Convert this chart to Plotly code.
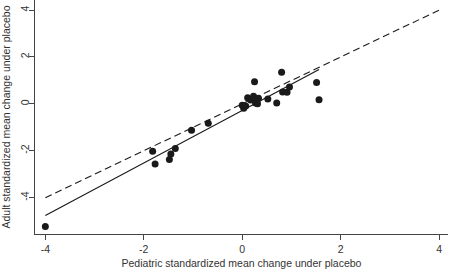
import plotly.graph_objects as go

# Pediatric (x) vs adult (y) standardized mean change under placebo
pediatric = [-4.00, -1.82, -1.77, -1.48, -1.45, -1.36, -1.03, -0.69,
             0.00, 0.03, 0.07, 0.11, 0.17, 0.23, 0.25, 0.27, 0.30, 0.33,
             0.31, 0.52, 0.70, 0.80, 0.82, 0.91, 0.96, 1.51, 1.56]
adult = [-5.23, -2.02, -2.56, -2.37, -2.14, -1.90, -1.12, -0.83,
         -0.06, -0.19, -0.09, 0.26, 0.16, 0.33, 0.94, 0.04, 0.16, 0.24,
         0.01, 0.21, 0.04, 1.35, 0.51, 0.50, 0.72, 0.91, 0.18]

# identity (dashed) line extent and fitted regression (solid) line
identity_range = [-4, 4]
fit_intercept = -0.28
fit_slope = 1.12

x_ticks = [-4, -2, 0, 2, 4]
y_ticks = [-4, -2, 0, 2, 4]

ink = "#1a1a1a"
font_family = "Liberation Sans, Arial, Helvetica, sans-serif"

fit_x = [min(pediatric), max(pediatric)]
fit_y = [fit_intercept + fit_slope * v for v in fit_x]

fig = go.Figure()
fig.add_trace(go.Scatter(
    x=identity_range, y=identity_range, mode="lines",
    line=dict(color=ink, width=1.1, dash="7px,4px"), hoverinfo="skip"))
fig.add_trace(go.Scatter(
    x=fit_x, y=fit_y, mode="lines",
    line=dict(color=ink, width=1.1), hoverinfo="skip"))
fig.add_trace(go.Scatter(
    x=pediatric, y=adult, mode="markers",
    marker=dict(color=ink, size=7, line=dict(width=0))))

axis_common = dict(
    showgrid=False, zeroline=False, showline=True,
    linecolor="#444444", linewidth=1,
    ticks="outside", ticklen=5, tickwidth=1, tickcolor="#444444",
    tickfont=dict(family=font_family, size=10.5, color="#333333"),
    mirror=False,
)

fig.update_layout(
    width=450, height=272,
    margin=dict(l=35, r=2, t=0, b=38),
    paper_bgcolor="white", plot_bgcolor="white",
    showlegend=False,
    font=dict(family=font_family, color="#333333"),
    xaxis=dict(
        range=[-4.21, 4.18], tickvals=x_ticks,
        ticktext=[str(t) for t in x_ticks],
        title=dict(text="Pediatric standardized mean change under placebo",
                   font=dict(family=font_family, size=10.5, color="#333333"),
                   standoff=6),
        **axis_common),
    yaxis=dict(
        range=[-5.55, 4.43], tickvals=y_ticks,
        ticktext=[str(t) for t in y_ticks], tickangle=-90,
        ticklabelstandoff=-4,
        title=dict(text="Adult standardized mean change under placebo",
                   font=dict(family=font_family, size=10.5, color="#333333"),
                   standoff=6),
        **axis_common),
)

fig.write_html("out.html",
               config={"displayModeBar": False},
               post_script="document.body.style.margin='0';"
                           "document.body.style.overflow='hidden';")
